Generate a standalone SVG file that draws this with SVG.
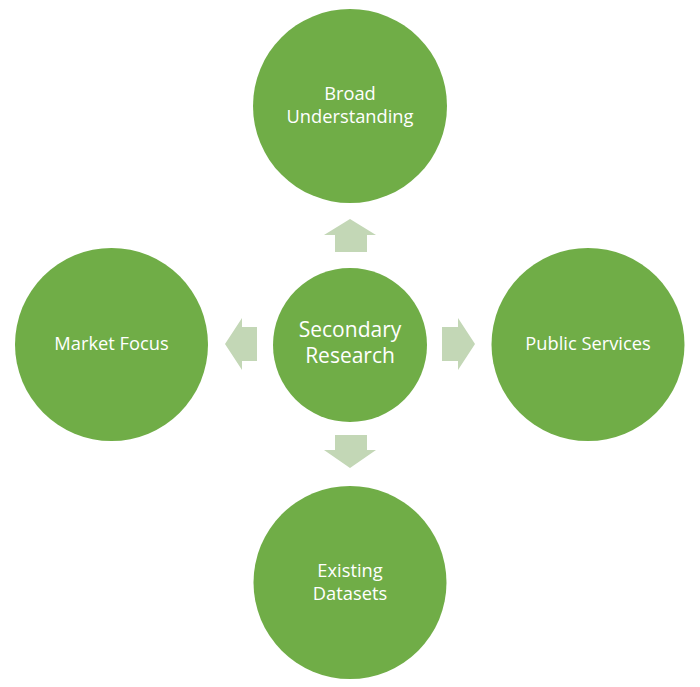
<svg xmlns="http://www.w3.org/2000/svg" width="700" height="687" viewBox="0 0 700 687">
<style>
.node{fill:#70AD47}
.arr{fill:#C3D7B6}
.t{fill:#FFFFFF;font-family:"Open Sans","Liberation Sans",sans-serif;font-size:18.3px;text-anchor:middle}
.tc{font-size:21px}
</style>
<rect width="700" height="687" fill="#FFFFFF"/>
<g id="connectors">
<polygon class="arr" points="350,219 376,235 367,235 367,252 335,252 335,235 324,235"/>
<polygon class="arr" points="350,468 376,450 367,450 367,435 335,435 335,450 324,450"/>
<polygon class="arr" points="225,344 242,318 242,327 257,327 257,361 242,361 242,370"/>
<polygon class="arr" points="475,344 458,318 458,327 442,327 442,361 458,361 458,370"/>
</g>
<g id="center">
<circle class="node" cx="350" cy="345" r="77"/>
<text class="t tc" x="350" y="337">Secondary</text>
<text class="t tc" x="350" y="363">Research</text>
</g>
<g id="top">
<circle class="node" cx="350" cy="106" r="97"/>
<text class="t" x="350" y="100">Broad</text>
<text class="t" x="350" y="123">Understanding</text>
</g>
<g id="left">
<circle class="node" cx="111.5" cy="344.5" r="96.5"/>
<text class="t" x="111.5" y="350">Market Focus</text>
</g>
<g id="right">
<circle class="node" cx="588" cy="344.5" r="96.5"/>
<text class="t" x="588" y="350">Public Services</text>
</g>
<g id="bottom">
<circle class="node" cx="350" cy="582.5" r="96.5"/>
<text class="t" x="350" y="577">Existing</text>
<text class="t" x="350" y="600">Datasets</text>
</g>
</svg>
